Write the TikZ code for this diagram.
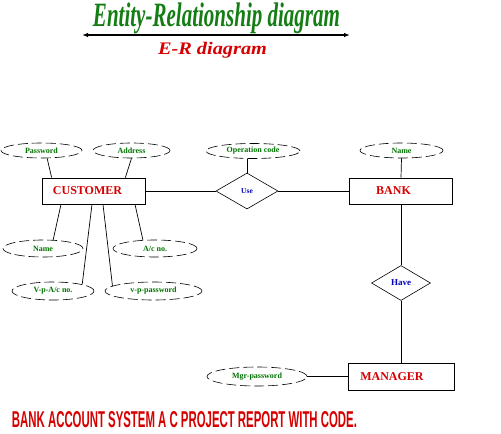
\documentclass[tikz,border=0pt]{standalone}
\usepackage{graphicx}
\usepackage{fontspec}
\setmainfont{Liberation Serif}
\setsansfont{Liberation Sans}
\usetikzlibrary{shapes.geometric,arrows.meta}
\definecolor{attrgreen}{RGB}{0,115,0}
\definecolor{titlegreen}{RGB}{20,125,20}
\definecolor{entred}{RGB}{215,0,0}
\definecolor{relblue}{RGB}{0,0,190}
\tikzset{
  attr/.style={ellipse,draw,line width=0.6pt,dash pattern=on 10pt off 4pt,inner sep=0pt,
    minimum height=16pt,text=attrgreen,font=\fontsize{8}{9}\selectfont\bfseries},
  entity/.style={rectangle,draw,line width=0.7pt,inner sep=0pt,minimum height=26pt,
    minimum width=103pt,text=entred,font=\fontsize{12}{13}\selectfont\bfseries},
  rel/.style={diamond,draw,line width=0.6pt,inner sep=0pt,text=relblue,font=\bfseries},
  link/.style={line width=0.7pt}
}
\begin{document}
\begin{tikzpicture}[x=1pt,y=-1pt]
\fill[white] (0,0) rectangle (501,434);
\useasboundingbox (0,0) rectangle (501,434);
% title
\coordinate (al) at (82,35);
\coordinate (ar) at (350,35);
\draw[line width=1.2pt,{Latex[length=6pt,width=4.5pt]}-{Latex[length=6pt,width=4.5pt]}] (al) -- (ar);
\node[inner sep=0pt,text=titlegreen] (title) at (216.5,18) {\resizebox*{247pt}{31pt}{\bfseries\itshape Entity-Relationship diagram}};
\node[inner sep=0pt,text=entred] (subtitle) at (212.5,50.5) {\resizebox*{109pt}{16pt}{\bfseries\itshape E-R diagram}};
% entities
\node[entity] (cust) at (93.5,191) {CUSTOMER\hspace*{12pt}};
\node[entity] (bank) at (401,191) {BANK\hspace*{15pt}};
\node[entity,minimum width=106pt,minimum height=27pt] (mgr) at (401,376.5) {MANAGER\hspace*{18pt}};
% relationships
\node[rel,minimum width=62pt,minimum height=36pt,font=\fontsize{7.5}{8}\selectfont\bfseries] (use) at (247,191) {Use};
\node[rel,minimum width=59pt,minimum height=35pt,font=\fontsize{9}{10}\selectfont\bfseries] (have) at (401,283) {Have};
% attributes
\node[attr,minimum width=81pt,minimum height=15pt] (pw) at (41.5,150.5) {Password};
\node[attr,minimum width=77pt,minimum height=15pt] (addr) at (131.5,150.5) {Address};
\node[attr,minimum width=94pt,minimum height=15pt] (opc) at (253,151) {Operation code};
\node[attr,minimum width=83pt,minimum height=15pt] (bname) at (401.5,150.5) {Name};
\node[attr,minimum width=80pt,minimum height=17pt] (nm) at (43,248.5) {Name};
\node[attr,minimum width=84pt,minimum height=17pt] (acn) at (155,248.5) {A/c no.};
\node[attr,minimum width=82pt,minimum height=18pt] (vpa) at (53,291) {V-p-A/c no.};
\node[attr,minimum width=97pt,minimum height=18pt] (vpp) at (153.5,291) {v-p-password};
\node[attr,minimum width=100pt,minimum height=19pt] (mp) at (257,376.5) {Mgr-password};
% bottom caption
\node[inner sep=0pt,text=entred] (caption) at (184.5,419.5) {\resizebox{345pt}{16pt}{\sffamily\bfseries BANK ACCOUNT SYSTEM A C PROJECT REPORT WITH CODE.}};
% connectors
\draw[link] (cust.east) -- (use.west);
\draw[link] (use.east) -- (bank.west);
\draw[link] (use.north) -- (use.north |- opc.south);
\draw[link] (bank.north) -- (bname.south);
\draw[link] (bank.south) -- (have.north);
\draw[link] (have.south) -- (mgr.north);
\draw[link] (mgr.west) -- (mp.east);
\draw[link] (pw.-54) -- ([xshift=10pt]cust.north west);
\draw[link] (addr.south) -- ([xshift=-20pt]cust.north east);
\draw[link] ([xshift=-32.5pt]cust.south) -- (nm.40);
\draw[link] ([xshift=-1.5pt]cust.south) -- (vpa.north east);
\draw[link] ([xshift=9.5pt]cust.south) -- (vpp.173);
\draw[link] ([xshift=41.5pt]cust.south) -- (acn.145);
\end{tikzpicture}
\end{document}
